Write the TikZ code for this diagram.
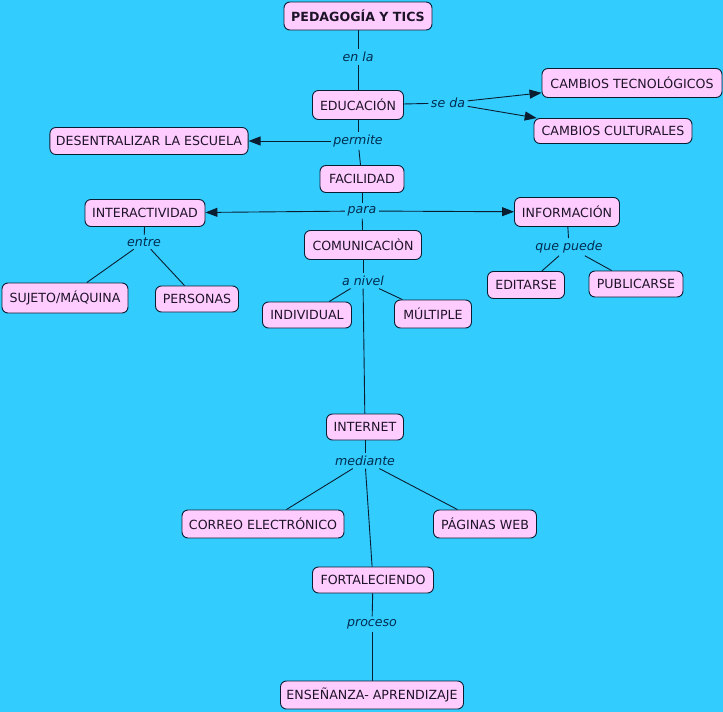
\documentclass[tikz,border=0pt]{standalone}
\usepackage{fontspec}
\setmainfont{DejaVu Sans}
\usetikzlibrary{arrows.meta}
\definecolor{bg}{RGB}{51,204,255}
\definecolor{nodefill}{RGB}{255,204,255}
\definecolor{linecol}{RGB}{10,30,50}
\definecolor{lbl}{RGB}{0,45,80}
\definecolor{txt}{RGB}{30,20,40}
\begin{document}
\begin{tikzpicture}[x=1pt,y=-1pt,
 concept/.style={draw=linecol, fill=nodefill, rounded corners=6pt, line width=0.9pt, minimum height=27pt, inner xsep=6pt, font=\fontsize{12.6}{14}\selectfont, text=txt},
 link/.style={inner sep=2.5pt, font=\fontsize{12.6}{14}\selectfont\itshape, text=lbl},
 conn/.style={draw=linecol, line width=0.9pt},
 arr/.style={conn, -{Triangle[length=12pt,width=9pt]}}]
\fill[bg] (0,0) rectangle (723,712);
\useasboundingbox (0,0) rectangle (723,712);

\node[concept, minimum width=148pt, minimum height=28pt, font=\fontsize{12.6}{14}\selectfont\bfseries] (ped) at (358,16) {PEDAGOGÍA Y TICS};
\node[link] (enla) at (358,57) {en la};
\node[concept, minimum width=91pt, minimum height=29pt] (edu) at (358,105) {EDUCACIÓN};
\node[link] (seda) at (448,103) {se da};
\node[concept, minimum width=180pt, minimum height=29pt] (ctec) at (632,83) {CAMBIOS TECNOLÓGICOS};
\node[concept, minimum width=158pt, minimum height=25pt] (ccul) at (613,131) {CAMBIOS CULTURALES};
\node[link] (permite) at (358,141) {permite};
\node[concept, minimum width=197pt] (des) at (149,141) {DESENTRALIZAR LA ESCUELA};
\node[concept, minimum width=84pt] (fac) at (362,179) {FACILIDAD};
\node[link] (para) at (362,211) {para};
\node[concept, minimum width=120pt] (inter) at (145,213) {INTERACTIVIDAD};
\node[concept, minimum width=105pt, minimum height=29pt] (info) at (567,212) {INFORMACIÓN};
\node[concept, minimum width=117pt, minimum height=29pt] (com) at (363,245) {COMUNICACIÒN};
\node[link] (entre) at (144,242) {entre};
\node[concept, minimum width=126pt, minimum height=30pt] (suj) at (65,298) {SUJETO/MÁQUINA};
\node[concept, minimum width=83pt, minimum height=26pt] (per) at (197,299) {PERSONAS};
\node[link] (anivel) at (363,281) {a nivel};
\node[concept, minimum width=89pt, minimum height=26pt] (ind) at (307,315) {INDIVIDUAL};
\node[concept, minimum width=77pt, minimum height=28pt] (mul) at (433,314) {MÚLTIPLE};
\node[link] (quepuede) at (569,247) {que puede};
\node[concept, minimum width=77pt] (edit) at (526,285) {EDITARSE};
\node[concept, minimum width=94pt, minimum height=26pt] (pub) at (636,284) {PUBLICARSE};
\node[concept, minimum width=77pt, minimum height=26pt] (net) at (365,427) {INTERNET};
\node[link] (med) at (365,461) {mediante};
\node[concept, minimum width=162pt, minimum height=28pt] (correo) at (263,524) {CORREO ELECTRÓNICO};
\node[concept, minimum width=103pt, minimum height=28pt] (web) at (485,524) {PÁGINAS WEB};
\node[concept, minimum width=121pt, minimum height=26pt] (fort) at (373,580) {FORTALECIENDO};
\node[link] (proc) at (372,624) {proceso};
\node[concept, minimum width=183pt, minimum height=28pt] (ens) at (372,695) {ENSEÑANZA- APRENDIZAJE};

\draw[conn] (ped) -- (enla);
\draw[conn] (enla) -- (edu);
\draw[conn] (edu) -- (seda);
\draw[arr] (seda) -- (ctec);
\draw[arr] (seda) -- (ccul);
\draw[conn] (edu) -- (permite);
\draw[arr] (permite) -- (des);
\draw[conn] (permite) -- (fac);
\draw[conn] (fac) -- (para);
\draw[arr] (para) -- (inter);
\draw[arr] (para) -- (info);
\draw[conn] (para) -- (com);
\draw[conn] (inter) -- (entre);
\draw[conn] (entre) -- (suj);
\draw[conn] (entre) -- (per);
\draw[conn] (com) -- (anivel);
\draw[conn] (anivel) -- (ind);
\draw[conn] (anivel) -- (mul);
\draw[conn] (anivel) -- (net);
\draw[conn] (info) -- (quepuede);
\draw[conn] (quepuede) -- (edit);
\draw[conn] (quepuede) -- (pub);
\draw[conn] (net) -- (med);
\draw[conn] (med) -- (correo);
\draw[conn] (med) -- (web);
\draw[conn] (med) -- (fort);
\draw[conn] (fort) -- (proc);
\draw[conn] (proc) -- (ens);
\end{tikzpicture}
\end{document}
